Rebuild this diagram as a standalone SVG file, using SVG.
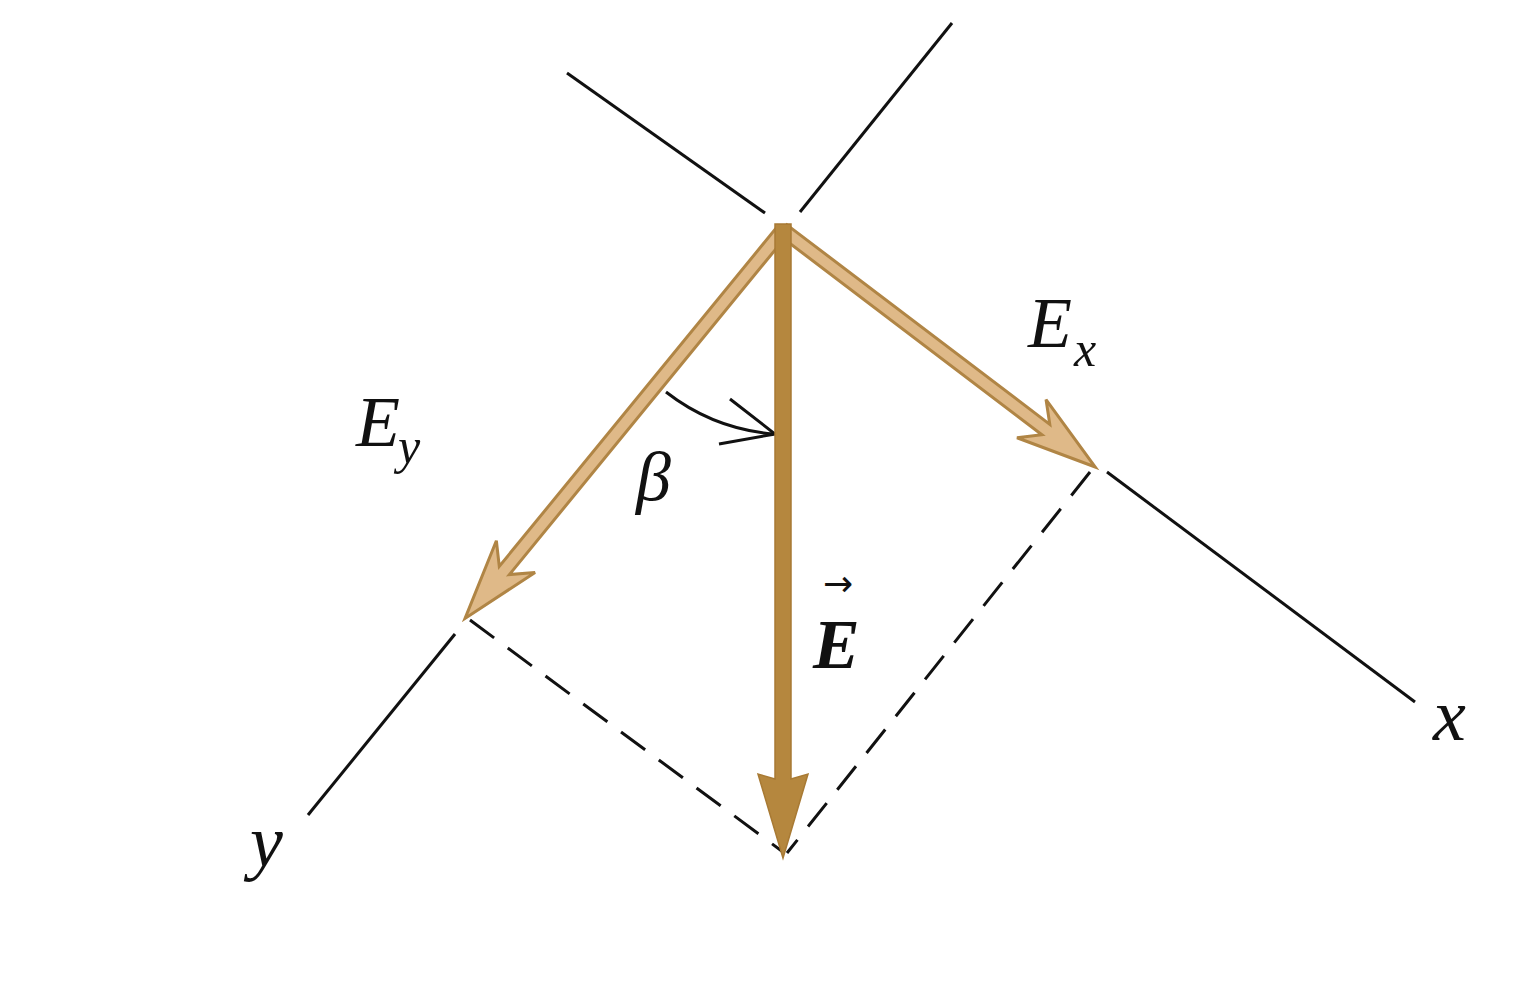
<svg xmlns="http://www.w3.org/2000/svg" width="1529" height="983" viewBox="0 0 1529 983">
<style>
.axis{stroke:#111;stroke-width:3;fill:none;stroke-linecap:butt}
.dash{stroke:#111;stroke-width:3;fill:none;stroke-dasharray:30 17}
.comp{fill:#DFB988;stroke:#B08545;stroke-width:3;stroke-linejoin:miter}
.main{fill:#B5873E;stroke:#A87A34;stroke-width:1.5}
.lbl{font-family:"Liberation Serif","DejaVu Serif",serif;font-style:italic;fill:#111}
.beta{fill:none;stroke:#111;stroke-width:3}
</style>
<rect width="1529" height="983" fill="#fff"/>
<g id="axes">
  <line class="axis" x1="567" y1="73" x2="765" y2="213"/>
  <line class="axis" x1="952" y1="23" x2="800" y2="212"/>
  <line class="axis" x1="1107" y1="472" x2="1415" y2="702"/>
  <line class="axis" x1="455" y1="634" x2="308" y2="815"/>
</g>
<g id="connectors">
  <line class="dash" x1="470" y1="620" x2="783" y2="852"/>
  <line class="dash" x1="1090" y1="472" x2="787" y2="853"/>
  <path class="beta" d="M 666 392 A 203 203 0 0 0 773 434"/>
  <path class="beta" d="M 730 399 L 775 434 L 719 444"/>
</g>
<g id="Ey-arrow" transform="translate(783,230) rotate(129.3)">
  <polygon class="comp" points="0,-6.5 440,-6.5 422,-25 502,0 422,25 440,6.5 0,6.5"/>
</g>
<g id="Ex-arrow" transform="translate(783,230) rotate(37.2)">
  <polygon class="comp" points="0,-6.5 330,-6.5 312,-24 392,0 312,24 330,6.5 0,6.5"/>
</g>
<g id="E-arrow" transform="translate(783,224) rotate(90)">
  <polygon class="main" points="0,-8 555,-8 550,-25 634,0 550,25 555,8 0,8"/>
</g>
<g id="labels">
  <text class="lbl" x="1028" y="347" font-size="72">E</text>
  <text class="lbl" x="1074" y="366" font-size="50">x</text>
  <text class="lbl" x="356" y="446" font-size="72">E</text>
  <text class="lbl" x="398" y="463" font-size="50">y</text>
  <text class="lbl" x="636" y="500" font-size="70">β</text>
  <text class="lbl" x="1433" y="740" font-size="74">x</text>
  <text class="lbl" x="250" y="866" font-size="74">y</text>
  <text class="lbl" x="813" y="668" font-size="70" font-weight="bold">E</text>
  <text x="823" y="596" font-size="36" font-family="DejaVu Sans, sans-serif" fill="#111">→</text>
</g>
</svg>
